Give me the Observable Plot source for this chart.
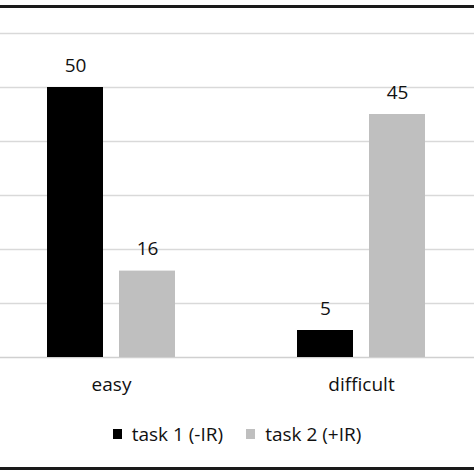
<!DOCTYPE html>
<html>
<head>
<meta charset="utf-8">
<script src="https://cdn.jsdelivr.net/npm/d3@7"></script>
<script src="https://cdn.jsdelivr.net/npm/@observablehq/plot@0.6"></script>
<style>
  html, body { margin: 0; padding: 0; background: #fff; }
  #wrap { position: relative; width: 474px; height: 474px; overflow: hidden; background: #fff; font-family: "Open Sans", sans-serif; }
  #chart svg { display: block; }
  .border { position: absolute; left: 0; width: 474px; height: 3px; background: #1a1a1a; }
  #legend { position: absolute; left: 0; width: 474px; top: 421px; display: flex; justify-content: center; align-items: center; gap: 23px; font-size: 19px; color: #111; }
  #legend .item { display: flex; align-items: center; gap: 10px; }
  #legend .sw { width: 9px; height: 10px; }
</style>
</head>
<body>
<div id="wrap">
  <div id="chart"></div>
  <div id="legend"></div>
  <div class="border" style="top:5px"></div>
  <div class="border" style="top:467px"></div>
</div>
<script>
const categories = ["easy", "difficult"];
const series = ["task 1 (-IR)", "task 2 (+IR)"];
const task1 = [50, 5];
const task2 = [16, 45];
const colors = ["#000000", "#bfbfbf"];
const yTicks = [10, 20, 30, 40, 50, 60];

const data = categories.flatMap((c, i) => [
  {cat: c, series: series[0], value: task1[i]},
  {cat: c, series: series[1], value: task2[i]}
]);

const chart = Plot.plot({
  width: 474,
  height: 410,
  marginLeft: -14,
  marginRight: -12,
  marginTop: 33,
  marginBottom: 53,
  style: {fontFamily: "'Open Sans', sans-serif", fontSize: "19px", color: "#111", background: "white"},
  fx: {domain: categories, padding: 0, label: null, tickSize: 0, tickPadding: 20, axis: "bottom"},
  x: {domain: series, axis: null, paddingInner: 16 / 72, paddingOuter: 0.8472},
  y: {domain: [0, 60], axis: null},
  color: {domain: series, range: colors},
  marks: [
    Plot.ruleY(yTicks, {stroke: "#d9d9d9", strokeWidth: 1.5}),
    Plot.ruleY([0], {stroke: "#d0d0d0", strokeWidth: 1.5}),
    Plot.barY(data, {fx: "cat", x: "series", y: "value", fill: "series"}),
    Plot.text(data, {fx: "cat", x: "series", y: "value", text: d => String(d.value), dy: -22, fontSize: 19, fill: "#111"})
  ]
});
document.getElementById("chart").appendChild(chart);

const legend = document.getElementById("legend");
series.forEach((s, i) => {
  const item = document.createElement("div");
  item.className = "item";
  const sw = document.createElement("div");
  sw.className = "sw";
  sw.style.background = colors[i];
  const label = document.createElement("span");
  label.textContent = s;
  item.appendChild(sw);
  item.appendChild(label);
  legend.appendChild(item);
});
</script>
</body>
</html>
